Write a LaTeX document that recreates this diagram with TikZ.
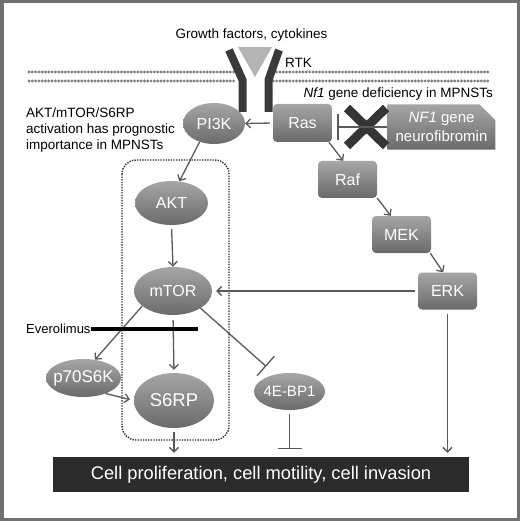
\documentclass[tikz,border=0pt]{standalone}
\usepackage{fontspec}
\setmainfont{Liberation Sans}
\usetikzlibrary{shapes.geometric,shapes.misc,arrows.meta}
\definecolor{nodetop}{HTML}{A6A6A6}
\definecolor{nodebot}{HTML}{6A6A6A}
\definecolor{conn}{HTML}{5A5A5A}
\definecolor{rec}{HTML}{3A3A3A}
\definecolor{tri}{HTML}{B4B4B4}
\definecolor{memb}{HTML}{7E7E7E}
\definecolor{cellbox}{HTML}{2B2B2B}
\definecolor{frame}{HTML}{707070}
\definecolor{xcol}{HTML}{353535}
\begin{document}
\begin{tikzpicture}[x=1pt,y=-1pt,
  lbl/.style={font=\fontsize{13.5}{16}\selectfont, inner sep=0pt, text=black},
  ell/.style={ellipse, top color=nodetop, bottom color=nodebot, text=white, inner sep=0pt, font=\fontsize{16}{18}\selectfont},
  kbox/.style={rectangle, rounded corners=4pt, top color=nodetop, bottom color=nodebot, text=white, inner sep=0pt, minimum width=59pt, minimum height=37pt, font=\fontsize{16}{18}\selectfont},
  arr/.style={draw=conn, line width=1.3pt, -{Straight Barb[length=4.5pt,width=9pt,line width=1.3pt]}},
  inh/.style={draw=conn, line width=1.3pt, -{Bar[width=26pt]}},
]
\path[use as bounding box] (0,0) rectangle (520,521);
\fill[frame] (0,0) rectangle (520,521);
\fill[white] (3.5,3.5) rectangle (516.5,517.5);

% membrane
\draw[memb, line width=3.2pt, line cap=round, dash pattern=on 0pt off 3.3pt]
  (29,72) -- (234,72) (29,81) -- (234,81) (270,72) -- (490,72) (270,81) -- (490,81);
% receptor
\draw[rec, line width=8pt, line join=miter] (229,50) -- (242.5,80) -- (242.5,112);
\draw[rec, line width=8pt, line join=miter] (279,50) -- (268.5,80) -- (268.5,112);
\fill[tri] (238,47) -- (272,47) -- (255,77) -- cycle;

% dotted box
\draw[black!85, line width=1.4pt, dash pattern=on 1.3pt off 1.3pt, rounded corners=14pt] (122,160) rectangle (229,440);

% labels
\node[lbl] (gf) at (251.5,35) {Growth factors, cytokines};
\node[lbl, anchor=west] (rtk) at (285,63) {RTK};
\node[lbl, anchor=east] (nf1txt) at (493,94) {\textit{Nf1} gene deficiency in MPNSTs};
\node[lbl, anchor=west, align=left] (prog) at (26,130) {AKT/mTOR/S6RP\\activation has prognostic\\importance in MPNSTs};
\node[lbl, font=\fontsize{13}{15}\selectfont, anchor=west] (evero) at (26,329) {Everolimus};

% nodes
\node[ell, minimum width=62pt, minimum height=41pt] (pi3k) at (214,123.5) {PI3K};
\node[kbox, minimum height=38pt] (ras) at (302.5,123) {Ras};
\node[kbox] (raf) at (347.5,179.5) {Raf};
\node[kbox] (mek) at (401.5,234.5) {MEK};
\node[kbox] (erk) at (447.5,291) {ERK};
\node[ell, minimum width=73pt, minimum height=44pt] (akt) at (171.5,203) {AKT};
\node[ell, minimum width=78pt, minimum height=48pt] (mtor) at (173,291) {mTOR};
\node[ell, minimum width=75pt, minimum height=38pt, inner xsep=-5pt, font=\fontsize{17}{19}\selectfont] (p70) at (83.5,378) {p70S6K};
\node[ell, minimum width=80pt, minimum height=55pt, font=\fontsize{18.5}{20}\selectfont] (s6rp) at (174,400.5) {S6RP};
\node[ell, minimum width=71pt, minimum height=37pt, inner xsep=-1pt, font=\fontsize{15}{17}\selectfont] (ebp) at (289.5,391.5) {4E-BP1};
\node[chamfered rectangle, chamfered rectangle corners=north east, chamfered rectangle xsep=8pt, chamfered rectangle ysep=8pt,
      top color=nodetop, bottom color=nodebot, text=white, inner sep=0pt, minimum width=103pt, minimum height=44pt,
      align=center, font=\fontsize{15}{19}\selectfont] (nf1) at (441.5,127) {\textit{NF1} gene\\neurofibromin};
\node[fill=cellbox, minimum width=416pt, minimum height=35pt, inner sep=0pt, text=white, font=\fontsize{18.3}{20}\selectfont] (cell) at (261,474.5) {Cell proliferation, cell motility, cell invasion};

% X mark
\draw[xcol, line width=9pt] (347,108) -- (386,146) (347,146) -- (386,108);

% connectors
\draw[arr, shorten <=3pt] (ras.west) -- (pi3k.east);
\draw[inh, shorten >=5pt] (nf1.west) -- (nf1.west -| ras.east);
\draw[arr] (pi3k.232) -- (akt.70);
\draw[arr] (ras.-36) -- (raf.103);
\draw[arr] (raf.-32) -- (mek.120);
\draw[arr] (mek.-33) -- (erk.103);
\draw[arr, shorten <=3pt, shorten >=4pt] (erk.west) -- (mtor.east);
\draw[arr, shorten <=4pt] (akt.south) -- (mtor.north);
\draw[arr] (mtor.206) -- (p70.58);
\draw[arr, shorten <=5pt, shorten >=3pt] (mtor.south) -- (s6rp.north);
\draw[arr, shorten >=4pt] (p70.-35) -- (s6rp.west);
\draw[inh, shorten >=12pt] (mtor.-32) -- (ebp.130);
\draw[draw=conn, line width=1.3pt, -{Bar[width=24pt]}, shorten <=4pt, shorten >=8pt] (ebp.south) -- (ebp.south |- cell.north);
\draw[arr, shorten <=4pt, shorten >=4pt] (s6rp.south) -- (s6rp.south |- cell.north);
\draw[arr, shorten <=4pt, shorten >=4pt] (erk.south) -- (erk.south |- cell.north);

% everolimus bar
\coordinate (everend) at (198,329);
\draw[black, line width=3.5pt] (evero.east) -- (everend);
\end{tikzpicture}
\end{document}
